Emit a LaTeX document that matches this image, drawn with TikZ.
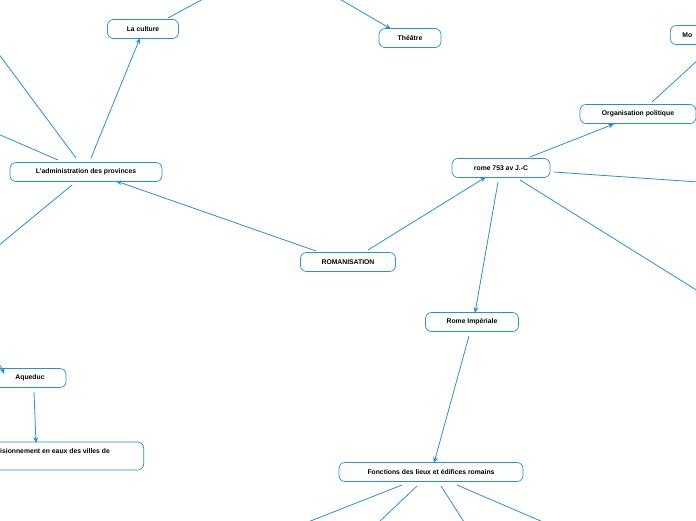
\documentclass[tikz,border=0pt]{standalone}
\usepackage{fontspec}
\setmainfont{Liberation Sans}
\usetikzlibrary{arrows.meta}
\definecolor{bl}{HTML}{2B8FD6}
\begin{document}
\begin{tikzpicture}[x=1pt,y=-1pt,
 box/.style={draw=bl,fill=white,rounded corners=6pt,line width=0.7pt,minimum height=19pt,inner sep=1pt,font=\fontsize{6.8}{7}\selectfont\bfseries},
 con/.style={draw=bl,line width=0.8pt},
 arr/.style={con,-{Stealth[length=6pt,width=5pt]}}]
\useasboundingbox (0,0) rectangle (696,520);
\clip (0,0) rectangle (696,520);
\fill[white] (0,0) rectangle (696,520);
% nodes
\node[box,minimum width=71pt] (cult) at (143,29) {La culture};
\node[box,minimum width=62pt] (thea) at (410,38) {Théâtre};
\node[box,minimum width=60pt,anchor=west] (mo) at (670,35) {\hspace*{-26pt}Mo};
\node[box,minimum width=116pt] (org) at (638,114) {Organisation politique};
\node[box,minimum width=152pt] (adm) at (86,172) {L'administration des provinces};
\node[box,minimum width=98pt] (rome) at (501,168) {rome 753 av J.-C};
\node[box,minimum width=95pt] (roma) at (348,262) {ROMANISATION};
\node[box,minimum width=93pt] (imp) at (472,322) {Rome Impériale};
\node[box,minimum width=72pt] (aq) at (30,378) {Aqueduc};
\node[box,minimum width=200pt,minimum height=28pt,anchor=east] (appro) at (144,456) {};
\node[font=\fontsize{6.8}{7}\selectfont\bfseries,anchor=east,inner sep=0pt] (approt) at (110,452) {Approvisionnement en eaux des villes de};
\node[box,minimum width=184pt] (fonc) at (431,472) {Fonctions des lieux et édifices romains};
% free ends
\coordinate (e1) at (205,-2); \coordinate (e2) at (338,-2);
\coordinate (e3) at (-2,53); \coordinate (e4) at (-2,134); \coordinate (e5) at (-2,246);
\coordinate (e6) at (698,182); \coordinate (e7) at (698,291); \coordinate (e8) at (698,60);
\coordinate (e9) at (-2,364);
\coordinate (f1) at (308,522); \coordinate (f2) at (379,522); \coordinate (f3) at (464,522); \coordinate (f4) at (543,522);
% connectors
\draw[arr] (316,251) -- (116,181);
\draw[arr] (368,250) -- (486,177);
\draw[arr] (498,182) -- (475,313);
\draw[arr] (469,336) -- (434,463);
\draw[arr] (530,157) -- (614,124);
\draw[con] (554,172) -- (e6);
\draw[con] (520,180) -- (e7);
\draw[con] (652,102) -- (e8);
\draw[arr] (91,158) -- (140,38);
\draw[con] (76,158) -- (e3);
\draw[con] (58,160) -- (e4);
\draw[con] (72,185) -- (e5);
\draw[con] (168,18) -- (e1);
\draw[arr] (e2) -- (391,29);
\draw[arr] (e9) .. controls (2,368) .. (4,374);
\draw[arr] (34,392) -- (36,443);
\draw[con] (402,485) -- (f1);
\draw[con] (417,486) -- (f2);
\draw[con] (441,486) -- (f3);
\draw[con] (457,485) -- (f4);
\end{tikzpicture}
\end{document}
